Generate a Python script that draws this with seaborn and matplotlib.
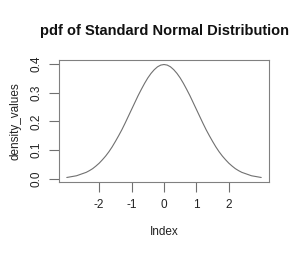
import matplotlib
matplotlib.use("Agg")
import matplotlib.pyplot as plt
import seaborn as sns
import pandas as pd

x_values = [-3.0, -2.9, -2.8, -2.7, -2.6, -2.5, -2.4, -2.3, -2.2, -2.1, -2.0,
            -1.9, -1.8, -1.7, -1.6, -1.5, -1.4, -1.3, -1.2, -1.1, -1.0,
            -0.9, -0.8, -0.7, -0.6, -0.5, -0.4, -0.3, -0.2, -0.1, 0.0,
            0.1, 0.2, 0.3, 0.4, 0.5, 0.6, 0.7, 0.8, 0.9, 1.0,
            1.1, 1.2, 1.3, 1.4, 1.5, 1.6, 1.7, 1.8, 1.9, 2.0,
            2.1, 2.2, 2.3, 2.4, 2.5, 2.6, 2.7, 2.8, 2.9, 3.0]
density_values = [0.004, 0.006, 0.008, 0.010, 0.014, 0.018, 0.022, 0.028, 0.035, 0.044, 0.054,
                  0.066, 0.079, 0.094, 0.111, 0.130, 0.150, 0.171, 0.194, 0.218, 0.242,
                  0.266, 0.290, 0.312, 0.333, 0.352, 0.368, 0.381, 0.391, 0.397, 0.399,
                  0.397, 0.391, 0.381, 0.368, 0.352, 0.333, 0.312, 0.290, 0.266, 0.242,
                  0.218, 0.194, 0.171, 0.150, 0.130, 0.111, 0.094, 0.079, 0.066, 0.054,
                  0.044, 0.035, 0.028, 0.022, 0.018, 0.014, 0.010, 0.008, 0.006, 0.004]
x_ticks = [-2, -1, 0, 1, 2]
y_ticks = [0.0, 0.1, 0.2, 0.3, 0.4]

sns.set_style("white")
plt.rcParams['font.family'] = ['Liberation Sans', 'DejaVu Sans']

fig = plt.figure(figsize=(3.0, 2.56), dpi=100)
ax = fig.add_axes([59/300, 1-182/256, 210/300, 122/256])

df = pd.DataFrame({"x": x_values, "density_values": density_values})
sns.lineplot(data=df, x="x", y="density_values", ax=ax, color="#707070", linewidth=0.8)

xr = max(x_values) - min(x_values)
yr = max(density_values) - min(density_values)
ax.set_xlim(min(x_values) - 0.04*xr, max(x_values) + 0.04*xr)
ax.set_ylim(min(density_values) - 0.04*yr, max(density_values) + 0.04*yr)

ax.set_xticks(x_ticks)
ax.set_xticklabels([str(t) for t in x_ticks])
ax.set_yticks(y_ticks)
ax.set_yticklabels([f"{t:.1f}" for t in y_ticks], rotation=90, va="center")
ax.tick_params(axis="both", direction="out", length=7, width=0.8, color="#707070",
               labelsize=8.5, labelcolor="#222222", pad=5, left=True, bottom=True)

for s in ax.spines.values():
    s.set_color("#808080")
    s.set_linewidth(0.8)

ax.set_xlabel("Index", fontsize=8.5, color="#222222", labelpad=11)
ax.set_ylabel("density_values", fontsize=8.5, color="#222222", labelpad=6)
fig.text(164/300, 1-31/256, "pdf of Standard Normal Distribution", ha="center", va="center",
         fontsize=10.5, fontweight="bold", color="#111111")

fig.savefig("out.png", dpi=100)
